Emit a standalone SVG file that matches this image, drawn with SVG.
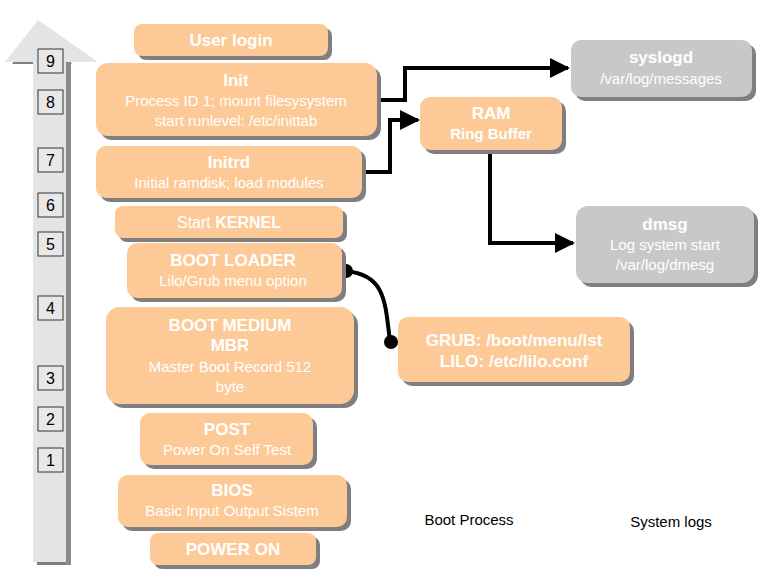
<svg xmlns="http://www.w3.org/2000/svg" width="768" height="575" viewBox="0 0 768 575">
<defs>
<style>
.b{fill:#fdc997}
.s{fill:#7f7f7f}
.g{fill:#c8c8c8}
text{font-family:"Liberation Sans",Arial,sans-serif;fill:#fff;text-anchor:middle}
.t{font-weight:bold;font-size:17px}
.n{font-size:15px}
.num{fill:#000;font-size:16px}
.c{fill:none;stroke:#000;stroke-width:4}
.lab{fill:#000;font-size:15px}
</style>
<marker id="ah" viewBox="0 0 10 10" refX="9" refY="5" markerWidth="6" markerHeight="5" markerUnits="strokeWidth" orient="auto"><path d="M0,0L10,5L0,10z" fill="#000"/></marker>
</defs>
<g id="scale">
<path d="M37,565V64H12L42,24L72,64H68V565z" fill="#7f7f7f"/>
<path d="M33,562V62H5L38,20L98,62H67V562z" fill="#e4e4e4"/>
<rect x="66" y="62" width="5" height="503" fill="#8a8a8a"/>
<g fill="#e8e8e8" stroke="#333" stroke-width="1">
<rect x="38" y="49" width="25" height="24"/><rect x="38" y="90" width="25" height="24"/><rect x="38" y="148" width="25" height="24"/><rect x="38" y="193" width="25" height="24"/><rect x="38" y="232" width="25" height="24"/><rect x="38" y="296" width="25" height="24"/><rect x="38" y="366" width="25" height="24"/><rect x="38" y="407" width="25" height="24"/><rect x="38" y="448" width="25" height="24"/>
</g>
<text class="num" x="50.5" y="67">9</text><text class="num" x="50.5" y="108">8</text><text class="num" x="50.5" y="166">7</text><text class="num" x="50.5" y="211">6</text><text class="num" x="50.5" y="250">5</text><text class="num" x="50.5" y="314">4</text><text class="num" x="50.5" y="384">3</text><text class="num" x="50.5" y="425">2</text><text class="num" x="50.5" y="466">1</text>
</g>
<g id="connectors">
<path class="c" d="M377,100H405V68H568" marker-end="url(#ah)"/>
<path class="c" d="M362,172H390V120H418" marker-end="url(#ah)"/>
<path class="c" d="M490,150V243H573" marker-end="url(#ah)"/>
<path class="c" d="M346,271C385,275 385,300 390,342"/>
<circle cx="346" cy="271" r="7"/><circle cx="391" cy="342" r="7"/>
</g>
<g id="userlogin"><rect class="s" x="138" y="28" width="194" height="32" rx="8"/><rect class="b" x="134" y="24" width="194" height="32" rx="8"/><text class="t" x="231" y="46">User login</text></g>
<g id="init"><rect class="s" x="100" y="67" width="281" height="73" rx="12"/><rect class="b" x="96" y="63" width="281" height="73" rx="12"/><text class="t" x="236" y="86">Init</text><text class="n" x="236" y="106">Process ID 1; mount filesysystem</text><text class="n" x="236" y="126">start runlevel: /etc/inittab</text></g>
<g id="initrd"><rect class="s" x="100" y="150" width="266" height="52" rx="10"/><rect class="b" x="96" y="146" width="266" height="52" rx="10"/><text class="t" x="229" y="168">Initrd</text><text class="n" x="229" y="188">Initial ramdisk; load modules</text></g>
<g id="kernel"><rect class="s" x="119" y="210" width="228" height="32" rx="8"/><rect class="b" x="115" y="206" width="228" height="32" rx="8"/><text class="n" x="229" y="228" style="font-size:16px">Start <tspan font-weight="bold">KERNEL</tspan></text></g>
<g id="bootloader"><rect class="s" x="131" y="247" width="215" height="55" rx="10"/><rect class="b" x="127" y="243" width="215" height="55" rx="10"/><text class="t" x="233" y="266">BOOT LOADER</text><text class="n" x="233" y="286">Lilo/Grub menu option</text></g>
<g id="bootmedium"><rect class="s" x="110" y="311" width="248" height="97" rx="14"/><rect class="b" x="106" y="307" width="248" height="97" rx="14"/><text class="t" x="230" y="331">BOOT MEDIUM</text><text class="t" x="230" y="351">MBR</text><text class="n" x="230" y="372">Master Boot Record 512</text><text class="n" x="230" y="392">byte</text></g>
<g id="post"><rect class="s" x="144" y="417" width="173" height="52" rx="10"/><rect class="b" x="140" y="413" width="173" height="52" rx="10"/><text class="t" x="227" y="435">POST</text><text class="n" x="227" y="455">Power On Self Test</text></g>
<g id="bios"><rect class="s" x="122" y="479" width="229" height="52" rx="10"/><rect class="b" x="118" y="475" width="229" height="52" rx="10"/><text class="t" x="232" y="496">BIOS</text><text class="n" x="232" y="516">Basic Input Output Sistem</text></g>
<g id="poweron"><rect class="s" x="154" y="537" width="166" height="32" rx="8"/><rect class="b" x="150" y="533" width="166" height="32" rx="8"/><text class="t" x="233" y="555">POWER ON</text></g>
<g id="ram"><rect class="s" x="424" y="101" width="142" height="53" rx="10"/><rect class="b" x="420" y="97" width="142" height="53" rx="10"/><text class="t" x="491" y="119">RAM</text><text class="t" x="491" y="139" style="font-size:15px">Ring Buffer</text></g>
<g id="grub"><rect class="s" x="402" y="321" width="232" height="65" rx="10"/><rect class="b" x="398" y="317" width="232" height="65" rx="10"/><text class="t" x="514" y="346">GRUB: /boot/menu/lst</text><text class="t" x="514" y="367">LILO: /etc/lilo.conf</text></g>
<g id="syslogd"><rect class="s" x="575" y="44" width="181" height="57" rx="10"/><rect class="g" x="571" y="40" width="181" height="57" rx="10"/><text class="t" x="661" y="63">syslogd</text><text class="n" x="661" y="84">/var/log/messages</text></g>
<g id="dmsg"><rect class="s" x="580" y="210" width="178" height="77" rx="12"/><rect class="g" x="576" y="206" width="178" height="77" rx="12"/><text class="t" x="665" y="230">dmsg</text><text class="n" x="665" y="250">Log system start</text><text class="n" x="665" y="270">/var/log/dmesg</text></g>
<text class="lab" x="469" y="525">Boot Process</text>
<text class="lab" x="671" y="527">System logs</text>
</svg>
